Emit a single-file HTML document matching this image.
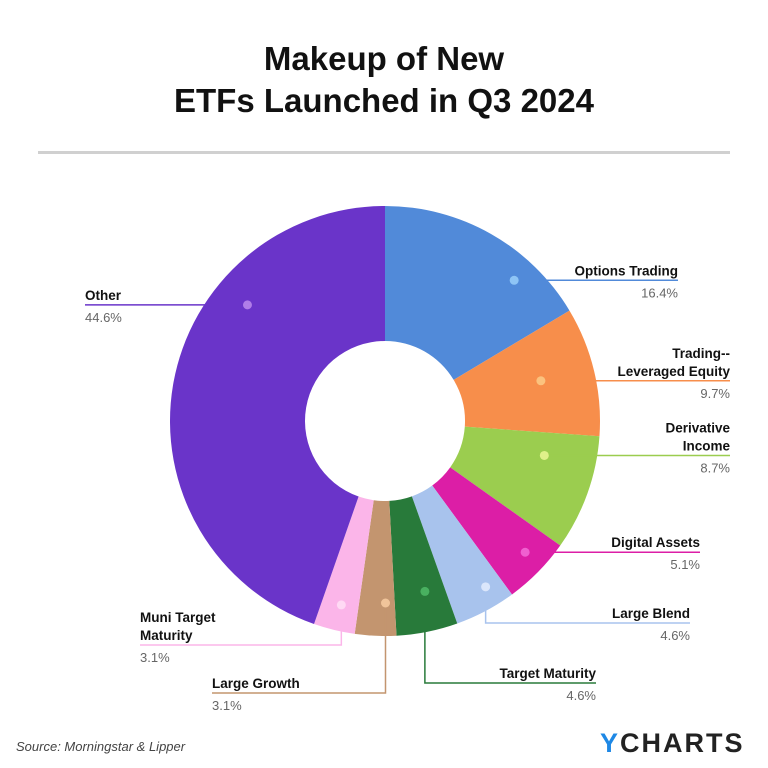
<!DOCTYPE html>
<html><head><meta charset="utf-8"><style>
body{margin:0;background:#fff;}
#wrap{position:relative;width:768px;height:768px;overflow:hidden;background:#fff;font-family:"Liberation Sans",sans-serif;}
.t{position:absolute;left:0;width:768px;text-align:center;font-weight:bold;font-size:33px;color:#111;}
</style></head><body>
<div id="wrap">
<div class="t" style="top:40px">Makeup of New</div>
<div class="t" style="top:82px">ETFs Launched in Q3 2024</div>
<div style="position:absolute;left:38px;top:151px;width:692px;height:3px;background:#d0d0d0"></div>
<svg id="pie" width="768" height="768" style="position:absolute;left:0;top:0"></svg>
<div style="position:absolute;left:16px;top:739px;font-size:13px;font-style:italic;color:#444">Source: Morningstar &amp; Lipper</div>
<div style="position:absolute;left:600px;top:728px;font-size:27px;font-weight:bold;letter-spacing:2px;color:#222"><span style="color:#1e88e5">Y</span>CHARTS</div>
</div>
<script>
const categories=["Options Trading","Trading--|Leveraged Equity","Derivative|Income","Digital Assets","Large Blend","Target Maturity","Large Growth","Muni Target|Maturity","Other"];
const values=[16.4,9.7,8.7,5.1,4.6,4.6,3.1,3.1,44.6];
const valueLabels=["16.4%","9.7%","8.7%","5.1%","4.6%","4.6%","3.1%","3.1%","44.6%"];
const colors=["#518ad9","#f78e4b","#9bcd4f","#dc1ea6","#a8c3ed","#287a3a","#c3956f","#fbb5e9","#6a34c9"];
const lightDots=["#8ec4f5","#fbc27e","#dff08a","#f060d0","#dbe6fb","#49b060","#f0c49a","#ffd9f4","#b07de8"];
// dot placement within slice: [fraction of slice angle, radius]
const dotPos=[[0.72,191],[0.47,161],[0.26,163],[0.42,192],[0.30,194],[0.39,175],[0.26,182],[0.47,189],[0.69,180]];
// label layout: [lineEndX, bendY or null, align, textX]
const layout=[[678,null,"end",678],[730,null,"end",730],[730,null,"end",730],[700,null,"end",700],[690,623,"end",690],[596,683,"end",596],[212,693,"start",212],[140,645,"start",140],[85,null,"start",85]];
const svg=document.getElementById('pie');const NS="http://www.w3.org/2000/svg";
const cx=385,cy=421,R=215,r0=80;
const total=values.reduce((a,b)=>a+b,0);
function pt(a,r){return [cx+r*Math.sin(a),cy-r*Math.cos(a)];}
let a=0;
values.forEach((v,i)=>{
 const a1=a+v/total*2*Math.PI;
 const [x0,y0]=pt(a,R),[x1,y1]=pt(a1,R),[x2,y2]=pt(a1,r0),[x3,y3]=pt(a,r0);
 const lg=(a1-a)>Math.PI?1:0;
 const p=document.createElementNS(NS,'path');
 p.setAttribute('d',`M${x0},${y0}A${R},${R} 0 ${lg} 1 ${x1},${y1}L${x2},${y2}A${r0},${r0} 0 ${lg} 0 ${x3},${y3}Z`);
 p.setAttribute('fill',colors[i]);
 
 
 svg.appendChild(p);
 const m=a+(a1-a)*dotPos[i][0];const [dx,dy]=pt(m,dotPos[i][1]);
 const L=layout[i];
 const ly=L[1]!==null?L[1]:dy;
 const ln=document.createElementNS(NS,'path');
 ln.setAttribute('d',`M${dx},${dy}L${dx},${ly}L${L[0]},${ly}`);ln.setAttribute('stroke',colors[i]);ln.setAttribute('fill','none');ln.setAttribute('stroke-width','1.5');
 
 
 svg.appendChild(ln);
 const c=document.createElementNS(NS,'circle');
 c.setAttribute('cx',dx);c.setAttribute('cy',dy);c.setAttribute('r',4.5);c.setAttribute('fill',lightDots[i]);
 
 
 svg.appendChild(c);
 const lines=categories[i].split('|');
 lines.forEach((s,k)=>{
  const t=document.createElementNS(NS,'text');
  t.setAttribute('x',L[3]);t.setAttribute('y',ly-5-(lines.length-1-k)*18);
  t.setAttribute('text-anchor',L[2]);t.setAttribute('font-family','Liberation Sans, sans-serif');
  t.setAttribute('font-size','13.5');t.setAttribute('font-weight','bold');t.setAttribute('fill','#111');
  t.textContent=s;
  
  
  svg.appendChild(t);
 });
 const tv=document.createElementNS(NS,'text');
 tv.setAttribute('x',L[3]);tv.setAttribute('y',ly+17);
 tv.setAttribute('text-anchor',L[2]);tv.setAttribute('font-family','Liberation Sans, sans-serif');
 tv.setAttribute('font-size','13');tv.setAttribute('fill','#666');
 tv.textContent=valueLabels[i];
 
 
 svg.appendChild(tv);
 a=a1;
});
</script>
</body></html>
